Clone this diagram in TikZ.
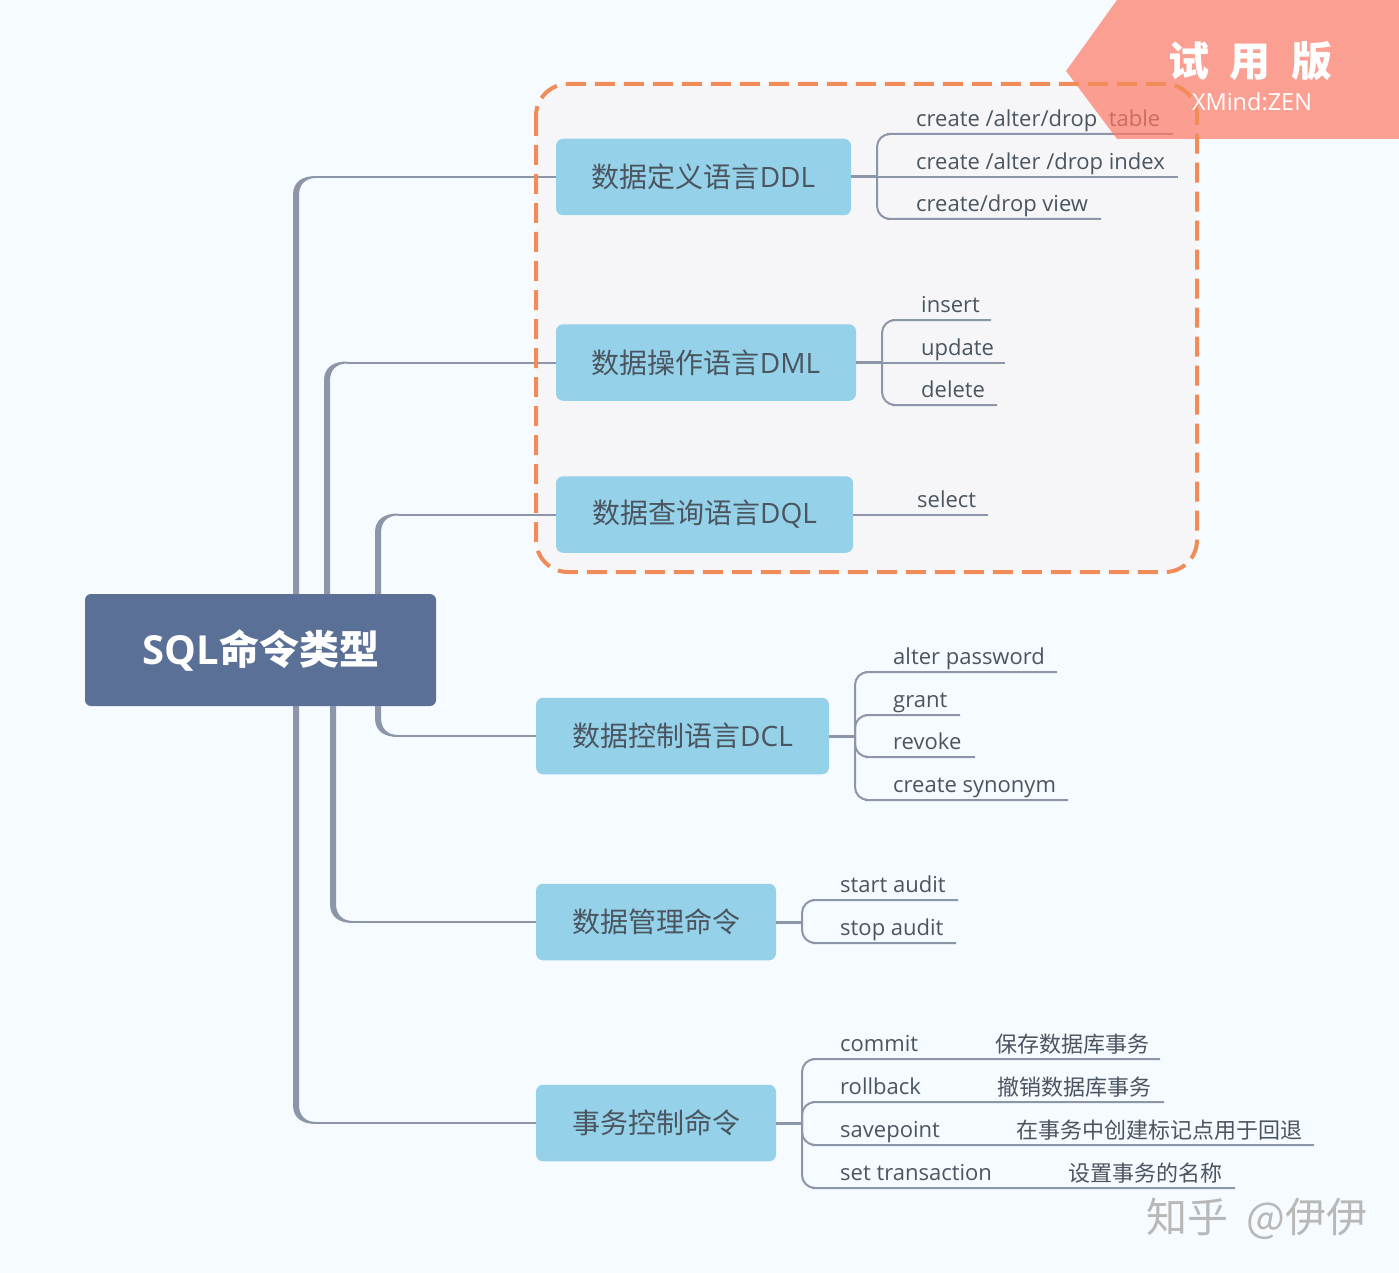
\documentclass[tikz,border=0pt]{standalone}
\usepackage{fontspec}
\setmainfont{Open Sans}
\newfontfamily\cjk{Noto Sans CJK SC}
\usetikzlibrary{calc}
\definecolor{bgc}{HTML}{F5FBFF}
\definecolor{boxfill}{HTML}{F6F6F9}
\definecolor{dashc}{HTML}{F08C58}
\definecolor{linec}{HTML}{8C96A8}
\definecolor{topicc}{HTML}{95D1E8}
\definecolor{rootc}{HTML}{5B7097}
\definecolor{textc}{HTML}{4A5560}
\definecolor{bannerc}{HTML}{FF7866}
\tikzset{
  x=1pt,y=-1pt,
  rootbox/.style={fill=rootc,rounded corners=6pt,text=white,font=\fontsize{40}{40}\selectfont\bfseries,inner sep=0pt},
  topicbox/.style={fill=topicc,rounded corners=7pt,text=textc,font=\fontsize{28}{30}\selectfont,inner sep=0pt,minimum height=76.5pt},
  leaftext/.style={text=textc,font=\fontsize{22}{24}\selectfont,inner sep=0pt,anchor=base west},
  notetext/.style={text=textc,font=\fontsize{22}{24}\selectfont\cjk,inner sep=0pt,anchor=base west},
  sub/.style={draw=linec,line width=2pt,rounded corners=13pt},
  stem/.style={draw=linec,line width=3pt},
  region/.style={draw=dashc,line width=4pt,dash pattern=on 20pt off 9pt,rounded corners=32pt},
}
% trunk: x, y of the bend, direction (1 up, -1 down), start y on the root, topic name
\newcommand{\trunk}[5]{%
  \fill[linec] ({#1-3},#4) -- ({#1-3},{#2+#3*18}) .. controls ({#1-3},{#2+#3*5}) and ({#1+6},{#2-#3*1}) .. ({#1+20},{#2-#3*1})
     -- ({#1+20},{#2+#3*1}) .. controls ({#1+9},{#2+#3*1}) and ({#1+3},{#2+#3*8}) .. ({#1+3},{#2+#3*18}) -- ({#1+3},#4) -- cycle;
  \coordinate (t#5) at ({#1+20},#2);
  \draw[linec,line width=2pt] (t#5) -- (#5.west);
}
% leaf: name, x of line start, y of line, x of line end, x of text, text
\newcommand{\leaf}[6]{%
  \node[leaftext] (#1) at (#5,{#3-7.5}) {#6};
  \coordinate (#1-s) at (#2,#3);
  \coordinate (#1-e) at (#4,#3);
}
\newcommand{\branch}[2]{\draw[sub] (#1) |- (#2-s) -- (#2-e);}
\newcommand{\straight}[2]{\draw[sub] (#1) -- (#2-e);}
\begin{document}
\begin{tikzpicture}
\useasboundingbox (0,0) rectangle (1399,1273);
\fill[bgc] (0,0) rectangle (1399,1273);
\fill[boxfill,rounded corners=32pt] (536,84) rectangle (1197,572);

% root and topics
\node[rootbox,minimum width=351pt,minimum height=112pt] (root) at (260.5,650) {\hspace{1pt}SQL{\cjk 命令类型}};
\node[topicbox,minimum width=295pt] (ddl) at (703.5,177) {{\cjk 数据定义语言}DDL};
\node[topicbox,minimum width=300pt] (dml) at (706,362.5) {{\cjk 数据操作语言}DML};
\node[topicbox,minimum width=297pt] (dql) at (704.5,514.5) {{\cjk 数据查询语言}DQL};
\node[topicbox,minimum width=293pt] (dcl) at (682.5,736) {{\cjk 数据控制语言}DCL};
\node[topicbox,minimum width=240pt] (audit) at (656,922) {{\cjk 数据管理命令}};
\node[topicbox,minimum width=240pt] (tcl) at (656,1123) {{\cjk 事务控制命令}};

% trunks from the root
\trunk{296}{177}{1}{594}{ddl}
\trunk{327}{362.5}{1}{594}{dml}
\trunk{378}{514.5}{1}{594}{dql}
\trunk{378}{736}{-1}{706}{dcl}
\trunk{333}{922}{-1}{706}{audit}
\trunk{296}{1123}{-1}{706}{tcl}

% leaves
\leaf{a1}{900}{134}{1173}{916}{create /alter/drop\ \ table}
\leaf{a2}{900}{177}{1178}{916}{create /alter /drop index}
\leaf{a3}{900}{219}{1101}{916}{create/drop view}
\leaf{b1}{905}{320}{991}{921}{insert}
\leaf{b2}{905}{362.5}{1005}{921}{update}
\leaf{b3}{905}{405}{997}{921}{delete}
\leaf{c1}{900}{514.5}{988}{917}{select}
\leaf{d1}{878}{672}{1057}{893}{alter password}
\leaf{d2}{878}{715}{960}{893}{grant}
\leaf{d3}{878}{757}{975}{893}{revoke}
\leaf{d4}{878}{800}{1068}{893}{create synonym}
\leaf{e1}{825}{900}{958}{840}{start audit}
\leaf{e2}{825}{943}{956}{840}{stop audit}
\leaf{f1}{825}{1059}{1160}{840}{commit}
\leaf{f2}{825}{1102}{1164}{840}{rollback}
\leaf{f3}{825}{1145}{1314}{840}{savepoint}
\leaf{f4}{825}{1188}{1235}{840}{set transaction}
\node[notetext] (n1) at (995,1052.5) {保存数据库事务};
\node[notetext] (n2) at (997,1095.5) {撤销数据库事务};
\node[notetext] (n3) at (1016,1138.5) {在事务中创建标记点用于回退};
\node[notetext] (n4) at (1068.5,1181.5) {设置事务的名称};

% hubs
\coordinate (ha) at (877,177);
\coordinate (hb) at (882,362.5);
\coordinate (hd) at (855,736);
\coordinate (he) at (802,922);
\coordinate (hf) at (802,1123);
\draw[stem] (ddl.east) -- (ha);
\draw[stem] (dml.east) -- (hb);
\draw[stem] (dcl.east) -- (hd);
\draw[stem] (audit.east) -- (he);
\draw[stem] (tcl.east) -- (hf);
\branch{ha}{a1}\straight{ha}{a2}\branch{ha}{a3}
\branch{hb}{b1}\straight{hb}{b2}\branch{hb}{b3}
\draw[sub] (dql.east) -- (c1-e);
\branch{hd}{d1}\branch{hd}{d2}\branch{hd}{d3}\branch{hd}{d4}
\branch{he}{e1}\branch{he}{e2}
\branch{hf}{f1}\branch{hf}{f2}\branch{hf}{f3}\branch{hf}{f4}

% trial banner
\fill[bannerc,opacity=.7] (1117,0) -- (1066,71) -- (1117,139) -- (1399,139) -- (1399,0) -- cycle;
\draw[region] (536,84) rectangle (1197,572);
\node[text=white,font=\fontsize{41}{41}\selectfont\bfseries\cjk,inner sep=0pt] (trial) at (1250,61) {试\hspace{.5em}用\hspace{.5em}版};
\node[text=white,font=\fontsize{23.5}{24}\selectfont,inner sep=0pt] (brand) at (1252,102) {XMind:ZEN};

% watermark
\node[text=black!28,font=\fontsize{41}{41}\selectfont\cjk,inner sep=0pt,anchor=base west] (mark) at (1146,1232) {知乎\hspace{.45em}@伊伊};
\end{tikzpicture}
\end{document}
